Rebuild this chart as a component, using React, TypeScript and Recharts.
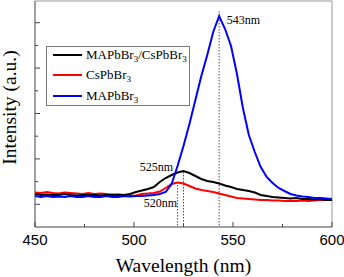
import React from 'react';
import { LineChart, Line, XAxis, YAxis, ReferenceLine, Legend } from 'recharts';

// Wavelength (nm)
const wavelengths = [
  450, 453, 456, 459, 462, 465, 468, 471, 474, 477, 480, 483, 486, 489, 492, 495, 498,
  501, 504, 507, 510, 513, 516, 519, 522, 525, 528, 531, 534, 537, 540, 543, 546, 549,
  552, 555, 558, 561, 564, 567, 570, 573, 576, 579, 582, 585, 588, 591, 594, 597, 600,
];

// MAPbBr3/CsPbBr3 (black)
const mixedPL = [
  33, 32, 32.5, 32, 32, 33, 32, 31.5, 32, 32, 32, 31.5, 32, 32, 32.5, 32, 33,
  35, 36.5, 38, 40, 45, 49, 52, 54.5, 56, 54, 51, 48, 46, 45, 43.5, 41.5, 40,
  38, 37, 36, 34.5, 32, 31, 30, 29.5, 29, 28.5, 29, 28, 28, 27.5, 28, 27, 27,
];

// CsPbBr3 (red)
const csPL = [
  34.5, 34, 35, 34, 33.5, 34.5, 34, 33.5, 33, 34, 33, 33.5, 33, 32.5, 32, 31.5, 31,
  31.5, 33, 33.5, 34, 35.5, 39, 43, 44.5, 43.5, 41, 38.5, 37, 36, 35, 33.5, 32, 30.5,
  29, 28.5, 28, 27.5, 27, 27, 26.5, 26.5, 26, 26, 26, 26.5, 26, 26.5, 27, 27, 27,
];

// MAPbBr3 (blue)
const maPL = [
  31, 30, 31, 30, 30.5, 30, 31, 30, 30, 31, 30, 30, 31, 30, 30, 31, 30.5,
  31, 31, 31.5, 32, 33, 35, 43, 61, 81, 103, 127, 151, 172, 195, 211, 198, 181,
  153, 119, 92, 75, 60, 50, 44, 39, 36, 33, 31.5, 30.5, 30, 29, 29, 28.5, 28,
];

const seriesNames = ['MAPbBr3/CsPbBr3', 'CsPbBr3', 'MAPbBr3'];
const seriesColors = ['#000000', '#ff0000', '#0000ff'];

const xTicks = [450, 475, 500, 525, 550, 575, 600];
const xLabelTicks = [450, 500, 550, 600];
const yTicks = [22.7, 45.4, 68.1, 90.8, 113.5, 136.2, 158.9, 181.6, 204.3];
const yMajorTicks = [22.7, 68.1, 113.5, 158.9, 204.3];

const peakNm = [543, 525, 522];
const peakLabels = ['543nm', '525nm', '520nm'];
const peakTop = [216, 55, 42];

const data = wavelengths.map((w, i) => ({ w, mixed: mixedPL[i], cs: csPL[i], ma: maPL[i] }));

const SERIF = '"Liberation Serif", "Times New Roman", serif';
const SANS = '"Liberation Sans", Arial, sans-serif';
const AXIS = '#444';

// label offsets: [dx, dy, anchor]
const peakLabelLayout: Array<[number, number, 'start' | 'end']> = [
  [7.5, 9, 'start'],
  [-10.5, -5, 'end'],
  [-0.5, 18, 'end'],
];

const XTick = (props: any) => {
  const { x, y, payload } = props;
  const major = xLabelTicks.includes(payload.value);
  return (
    <g>
      <line x1={x} x2={x} y1={y} y2={y - (major ? 5 : 3)} stroke={AXIS} strokeWidth={1} />
      {major && (
        <text x={x} y={y + 12} textAnchor="middle" dominantBaseline="central" fontFamily={SANS} fontSize={15} fill="#000">
          {payload.value}
        </text>
      )}
    </g>
  );
};

const YTick = (props: any) => {
  const { x, y, payload } = props;
  const major = yMajorTicks.includes(payload.value);
  return <line x1={x} x2={x + (major ? 5 : 3)} y1={y} y2={y} stroke={AXIS} strokeWidth={1} />;
};

const formula = (s: string) => {
  const parts = s.split(/(\d)/);
  return parts.map((p, i) =>
    /\d/.test(p) ? (
      <span key={i} style={{ fontSize: 9, position: 'relative', top: 3 }}>
        {p}
      </span>
    ) : (
      <span key={i}>{p}</span>
    )
  );
};

const LegendBox = () => {
  const order = [0, 1, 2];
  const centers = [8, 28, 49];
  return (
    <div
      style={{
        position: 'relative',
        width: 142,
        height: 58,
        border: '1px solid #777',
        background: '#fff',
        fontFamily: SERIF,
        fontSize: 13,
        color: '#000',
      }}
    >
      {order.map((i) => (
        <div
          key={i}
          style={{
            position: 'absolute',
            left: 6,
            top: centers[i] - 10,
            height: 20,
            display: 'flex',
            alignItems: 'center',
            whiteSpace: 'nowrap',
          }}
        >
          <div style={{ width: 29, height: 2, background: seriesColors[i], marginRight: 4 }} />
          <span>{formula(seriesNames[i])}</span>
        </div>
      ))}
    </div>
  );
};

const makePeakLabel = (idx: number) => (props: any) => {
  const vb = props.viewBox || {};
  const [dx, dy, anchor] = peakLabelLayout[idx];
  return (
    <text
      x={vb.x + dx}
      y={vb.y + dy}
      textAnchor={anchor}
      dominantBaseline="central"
      fontFamily={SERIF}
      fontSize={12}
      fill="#000"
    >
      {peakLabels[idx]}
    </text>
  );
};

const XTitle = (props: any) => {
  const vb = props.viewBox || { x: 35, width: 297, y: 227 };
  return (
    <text x={vb.x + vb.width / 2} y={271.5} textAnchor="middle" fontFamily={SERIF} fontSize={19.5} fill="#000">
      Wavelength (nm)
    </text>
  );
};

const YTitle = () => (
  <text
    x={16}
    y={107.5}
    transform="rotate(-90 16 107.5)"
    textAnchor="middle"
    fontFamily={SERIF}
    fontSize={19.5}
    fill="#000"
  >
    Intensity (a.u.)
  </text>
);

export default function App() {
  return (
    <div style={{ position: 'absolute', left: 0, top: 0, width: 344, height: 277, background: '#fff' }}>
      <LineChart width={344} height={277} data={data} margin={{ top: 1, right: 12, bottom: 0, left: 0 }}>
        <XAxis
          type="number"
          dataKey="w"
          domain={[450, 600]}
          ticks={xTicks}
          interval={0}
          height={50}
          tickSize={0}
          tickMargin={0}
          tick={<XTick />}
          axisLine={{ stroke: AXIS, strokeWidth: 1 }}
          tickLine={false}
          label={XTitle}
        />
        <YAxis
          type="number"
          domain={[0, 226]}
          ticks={yTicks}
          interval={0}
          width={35}
          tickSize={0}
          tickMargin={0}
          tick={<YTick />}
          axisLine={{ stroke: AXIS, strokeWidth: 1 }}
          tickLine={false}
          label={YTitle}
        />
        <ReferenceLine y={226} stroke="#999" strokeWidth={1} />
        <ReferenceLine x={600} stroke="#999" strokeWidth={1} />
        {peakNm.map((nm, i) => (
          <ReferenceLine
            key={nm}
            segment={[
              { x: nm, y: peakTop[i] },
              { x: nm, y: 0 },
            ]}
            stroke="#555"
            strokeWidth={1}
            strokeDasharray="1.5 1.5"
            label={makePeakLabel(i)}
          />
        ))}
        <Line type="linear" dataKey="cs" stroke={seriesColors[1]} strokeWidth={2} dot={false} isAnimationActive={false} />
        <Line type="linear" dataKey="mixed" stroke={seriesColors[0]} strokeWidth={2} dot={false} isAnimationActive={false} />
        <Line type="linear" dataKey="ma" stroke={seriesColors[2]} strokeWidth={2} dot={false} isAnimationActive={false} />
        <Legend
          layout="vertical"
          align="center"
          verticalAlign="middle"
          content={<LegendBox />}
          wrapperStyle={{ position: 'absolute', left: 46, top: 46, width: 144, height: 60, margin: 0 }}
        />
      </LineChart>
    </div>
  );
}
